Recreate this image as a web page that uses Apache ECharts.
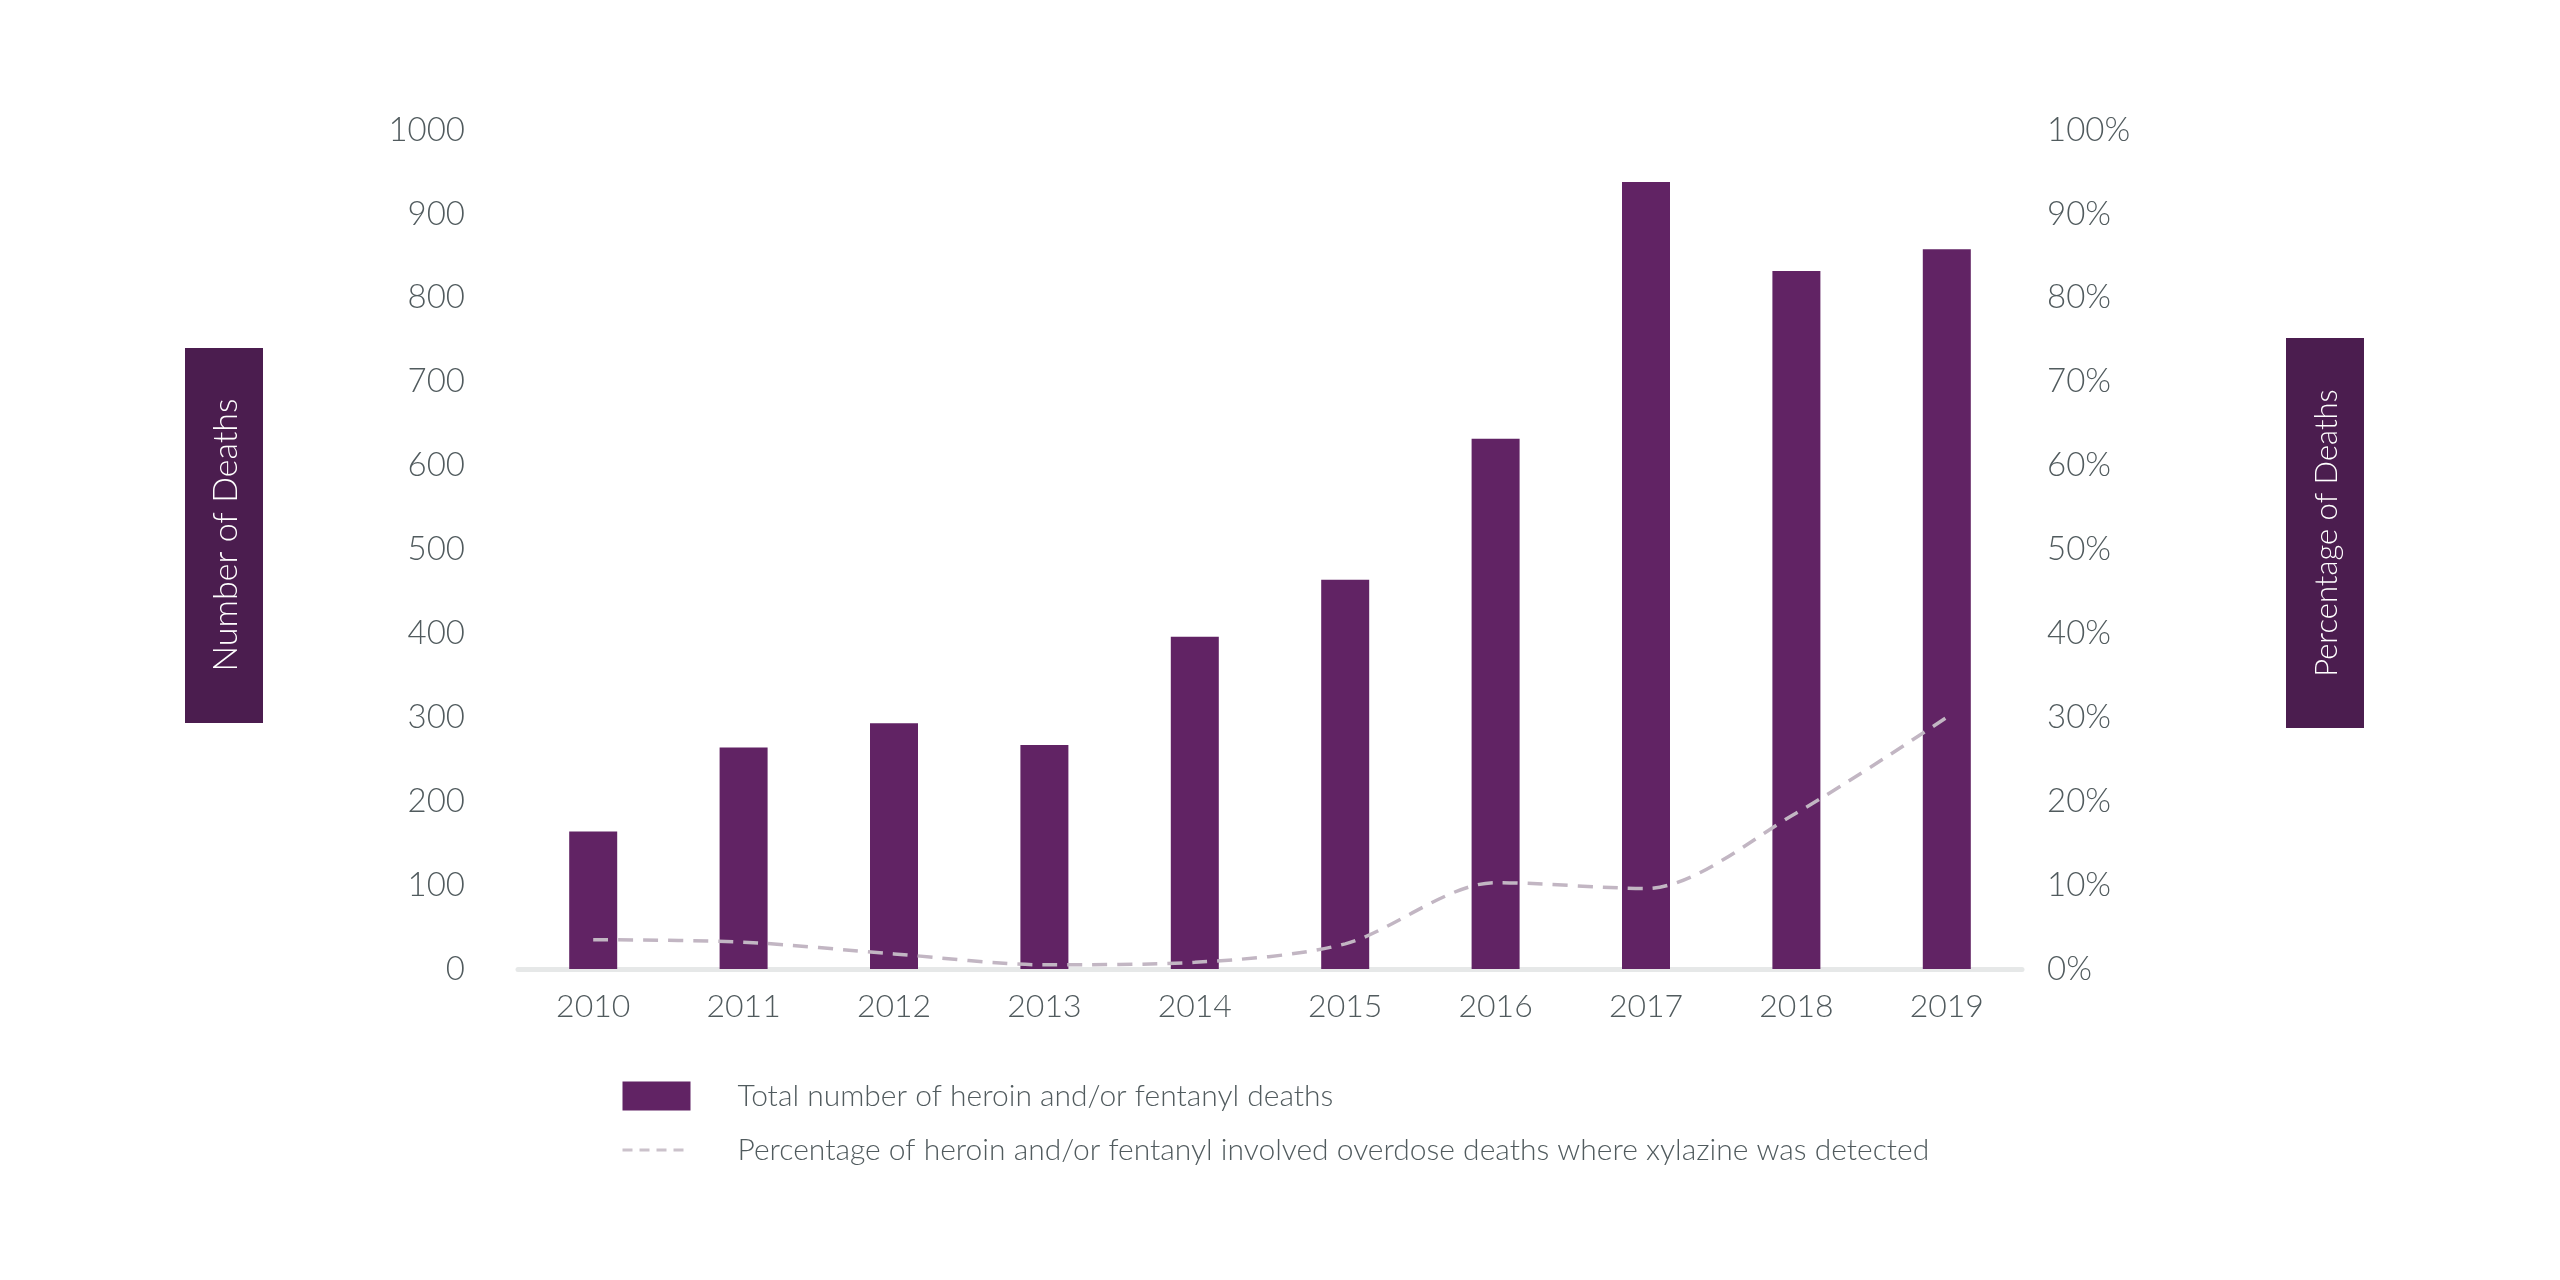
<!DOCTYPE html>
<html>
<head>
<meta charset="utf-8">
<title>Heroin and/or fentanyl deaths</title>
<script src="https://cdn.jsdelivr.net/npm/echarts@6/dist/echarts.min.js"></script>
<style>
  html, body { margin: 0; padding: 0; background: #fff; }
  #main { width: 2560px; height: 1280px; }
</style>
</head>
<body>
<div id="main"></div>
<script>
// 数据
var years = ['2010', '2011', '2012', '2013', '2014', '2015', '2016', '2017', '2018', '2019'];
var totalDeaths = [164, 264, 293, 267, 396, 464, 632, 938, 832, 858];
var xylazinePct = [3.5, 3.2, 1.8, 0.5, 0.8, 3.0, 10.3, 9.6, 18.6, 30.0];

var barName = 'Total number of heroin and/or fentanyl deaths';
var lineName = 'Percentage of heroin and/or fentanyl involved overdose deaths where xylazine was detected';

var labelColor = '#515b5e';
var baseFont = 'Lato, "Open Sans", sans-serif';

var chart = echarts.init(document.getElementById('main'));

var option = {
	backgroundColor: '#ffffff',
	animation: false,
	grid: {
		left: 518,
		right: 538,
		top: 130,
		bottom: 311
	},
	//图例
	legend: {
		orient: 'vertical',
		left: 616,
		top: 1076,
		itemWidth: 68,
		itemHeight: 29,
		itemGap: 24,
		textStyle: {
			color: labelColor,
			fontFamily: baseFont,
			fontWeight: 300,
			fontSize: 30,
			padding: [0, 0, 0, 42]
		},
		data: [
			{ name: barName, icon: 'rect' },
			{
				name: lineName,
				itemStyle: { opacity: 0 },
				lineStyle: { type: [10, 7], width: 3, color: '#cbc2cb' }
			}
		]
	},
	xAxis: {
		type: 'category',
		data: years,
		axisLine: { show: true, lineStyle: { color: '#e6e8e8', width: 5 } },
		axisTick: { show: false },
		axisLabel: {
			color: labelColor,
			fontFamily: baseFont,
			fontWeight: 300,
			fontSize: 32,
			margin: 22
		}
	},
	yAxis: [
		{
			type: 'value',
			min: 0,
			max: 1000,
			interval: 100,
			splitLine: { show: false },
			axisLine: { show: false },
			axisTick: { show: false },
			axisLabel: {
				formatter: function (v) { return String(v); },
				color: labelColor,
				fontFamily: baseFont,
				fontWeight: 300,
				fontSize: 33,
				margin: 53
			}
		},
		{
			type: 'value',
			min: 0,
			max: 100,
			interval: 10,
			splitLine: { show: false },
			axisLine: { show: false },
			axisTick: { show: false },
			axisLabel: {
				formatter: '{value}%',
				color: labelColor,
				fontFamily: baseFont,
				fontWeight: 300,
				fontSize: 33,
				margin: 25
			}
		}
	],
	series: [
		{
			name: barName,
			type: 'bar',
			barWidth: 48,
			itemStyle: { color: '#612364' },
			data: totalDeaths
		},
		{
			name: lineName,
			type: 'line',
			yAxisIndex: 1,
			smooth: 0.3,
			symbol: 'none',
			z: 5,
			lineStyle: { color: '#c2b6c3', width: 3.5, type: [15, 10] },
			data: xylazinePct
		}
	],
	//两侧的轴标题框
	graphic: [
		{
			type: 'rect',
			shape: { x: 185, y: 348, width: 78, height: 375 },
			style: { fill: '#4b1d4f' }
		},
		{
			type: 'text',
			x: 226,
			y: 535,
			rotation: Math.PI / 2,
			style: {
				text: 'Number of Deaths',
				fill: '#ffffff',
				font: '300 34px ' + baseFont,
				textAlign: 'center',
				textVerticalAlign: 'middle'
			}
		},
		{
			type: 'rect',
			shape: { x: 2286, y: 338, width: 78, height: 390 },
			style: { fill: '#4b1d4f' }
		},
		{
			type: 'text',
			x: 2327,
			y: 533,
			rotation: Math.PI / 2,
			style: {
				text: 'Percentage of Deaths',
				fill: '#ffffff',
				font: '300 31px ' + baseFont,
				textAlign: 'center',
				textVerticalAlign: 'middle'
			}
		}
	]
};

chart.setOption(option);
</script>
</body>
</html>
